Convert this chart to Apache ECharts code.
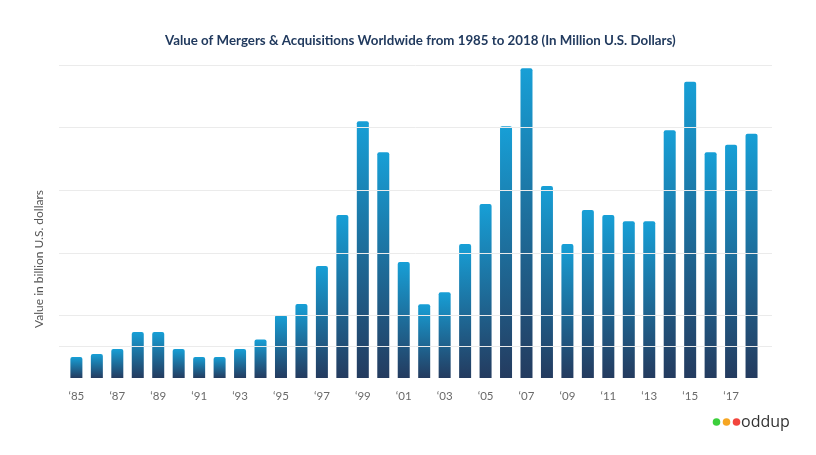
<!DOCTYPE html>
<html>
<head>
<meta charset="utf-8">
<title>M&A Worldwide</title>
<script src="https://cdn.jsdelivr.net/npm/echarts@6/dist/echarts.min.js"></script>
<style>
  html, body { margin: 0; padding: 0; background: #fff; }
  #main { width: 816px; height: 455px; }
</style>
</head>
<body>
<div id="main"></div>
<script>
// years on the x axis
const years = [1985, 1986, 1987, 1988, 1989, 1990, 1991, 1992, 1993, 1994,
  1995, 1996, 1997, 1998, 1999, 2000, 2001, 2002, 2003, 2004,
  2005, 2006, 2007, 2008, 2009, 2010, 2011, 2012, 2013, 2014,
  2015, 2016, 2017, 2018];
// value in billion U.S. dollars
const values = [335, 383, 463, 735, 735, 463, 335, 335, 463, 617,
  1006, 1182, 1789, 2604, 4100, 3605, 1853, 1177, 1369, 2140,
  2780, 4020, 4947, 3067, 2140, 2684, 2604, 2503, 2503, 3956,
  4733, 3605, 3727, 3901];
// labelled years and horizontal grid lines
const labelYears = [1985, 1987, 1989, 1991, 1993, 1995, 1997, 1999, 2001, 2003,
  2005, 2007, 2009, 2011, 2013, 2015, 2017];
const gridValues = [500, 1000, 2000, 3000, 4000, 5000];

const chart = echarts.init(document.getElementById('main'));

const option = {
  animation: false,
  title: {
    text: 'Value of Mergers & Acquisitions Worldwide from 1985 to 2018 (In Million U.S. Dollars)',
    left: 160,
    top: 29,
    textStyle: {
      color: '#213a5e',
      fontFamily: 'Lato',
      fontWeight: 'bold',
      fontSize: 13.3
    }
  },
  grid: { left: 59, right: 44, top: 65, bottom: 77 },
  xAxis: {
    type: 'value',
    min: 1984.15,
    max: 2019.0,
    axisLine: { show: false },
    axisTick: { show: false },
    splitLine: { show: false },
    axisLabel: {
      customValues: labelYears,
      formatter: v => '\u2018' + String(v).slice(2),
      color: '#6a6a6a',
      fontFamily: 'Lato',
      fontSize: 11.5,
      margin: 12
    }
  },
  yAxis: {
    type: 'value',
    min: 0,
    max: 5000,
    axisLine: { show: false },
    axisTick: { show: false },
    axisLabel: { show: false },
    splitLine: { show: false }
  },
  graphic: [
    {
      type: 'text',
      x: 39.5, y: 259,
      rotation: Math.PI / 2,
      style: {
        text: 'Value in billion U.S. dollars',
        fill: '#555555',
        font: '12px Lato',
        align: 'center',
        verticalAlign: 'middle'
      }
    },
    { type: 'circle', shape: { cx: 716.5, cy: 422, r: 3.8 }, style: { fill: '#3ccf3c' } },
    { type: 'circle', shape: { cx: 726.5, cy: 422, r: 3.8 }, style: { fill: '#f6a623' } },
    { type: 'circle', shape: { cx: 736.5, cy: 422, r: 3.8 }, style: { fill: '#f2453d' } },
    {
      type: 'text',
      x: 741, y: 422,
      style: {
        text: 'oddup',
        fill: '#333333',
        font: '16px "Open Sans"',
        align: 'left',
        verticalAlign: 'middle'
      }
    }
  ],
  series: [{
    type: 'bar',
    data: years.map((y, i) => [y, values[i]]),
    barWidth: 12,
    itemStyle: {
      borderRadius: [2, 2, 0, 0],
      color: new echarts.graphic.LinearGradient(0, 0, 0, 1, [
        { offset: 0, color: '#179fd6' },
        { offset: 1, color: '#243b5f' }
      ])
    },
    markLine: {
      silent: true,
      symbol: 'none',
      label: { show: false },
      lineStyle: { color: '#ebebeb', width: 1, type: 'solid' },
      data: gridValues.map(v => ({ yAxis: v }))
    },
    z: 3
  }]
};

chart.setOption(option);
</script>
</body>
</html>
